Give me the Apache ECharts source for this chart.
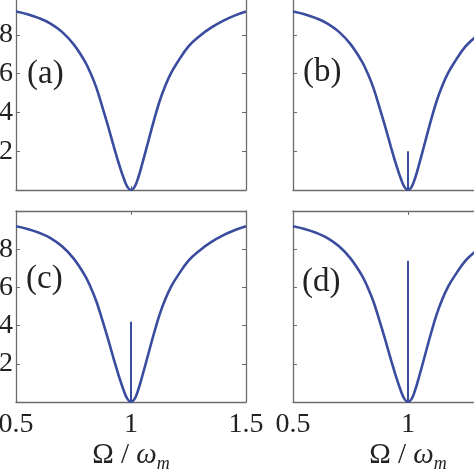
<!DOCTYPE html>
<html>
<head>
<meta charset="utf-8">
<script src="https://cdn.jsdelivr.net/npm/echarts@6/dist/echarts.min.js"></script>
<style>
  html, body { margin: 0; padding: 0; background: #fff; }
  #chart { width: 474px; height: 474px; }
</style>
</head>
<body>
<div id="chart"></div>
<script>
// Dados
const omegaRatio = [0.5, 0.55, 0.6, 0.65, 0.7, 0.75, 0.8, 0.825, 0.85, 0.875, 0.9, 0.925, 0.95, 0.97, 0.985, 1.0,
                    1.015, 1.03, 1.05, 1.075, 1.1, 1.125, 1.15, 1.175, 1.2, 1.25, 1.3, 1.35, 1.4, 1.45, 1.5];
const dipCurve = [0.92, 0.906, 0.886, 0.858, 0.815, 0.752, 0.662, 0.600, 0.525, 0.43, 0.33, 0.225, 0.125, 0.055, 0.015, 0.0,
                  0.015, 0.058, 0.14, 0.25, 0.36, 0.46, 0.54, 0.605, 0.655, 0.74, 0.795, 0.838, 0.872, 0.899, 0.92];
const spikeHeights = [0, 0.2, 0.42, 0.74];
const panelLabels = ['(a)', '(b)', '(c)', '(d)'];
const xTickValues = [0.5, 1, 1.5];
const yTickValues = [0.2, 0.4, 0.6, 0.8];

const FONT = 'Liberation Serif';
const AXIS_COLOR = '#6b6b6b';
const LINE_COLOR = '#3a4c9e';

// posição de cada painel (a, b, c, d)
const panels = [
  { left: 16,  top: -4,  width: 230, height: 194, showY: true,  showX: false, lx: 27,  ly: 74 },
  { left: 293, top: -4,  width: 230, height: 194, showY: false, showX: false, lx: 303, ly: 72 },
  { left: 16,  top: 211, width: 230, height: 191, showY: true,  showX: true,  lx: 26,  ly: 279 },
  { left: 293, top: 211, width: 230, height: 191, showY: false, showX: true,  lx: 302, ly: 282 }
];

const chart = echarts.init(document.getElementById('chart'));

const grid = [], xAxis = [], yAxis = [], series = [], graphic = [];
const curveData = omegaRatio.map((x, i) => [x, dipCurve[i]]);

panels.forEach((p, k) => {
  grid.push({ left: p.left, top: p.top, width: p.width, height: p.height, containLabel: false, outerBoundsMode: 'none' });

  const lineStyle = { color: AXIS_COLOR, width: 1.3 };
  const tick = { show: true, inside: true, length: 4, lineStyle: { color: AXIS_COLOR, width: 1 } };

  // eixo x de baixo
  xAxis.push({
    type: 'value', gridIndex: k, position: 'bottom',
    min: 0.5, max: 1.5, interval: 0.5,
    axisLine: { show: true, onZero: false, lineStyle },
    axisTick: tick,
    splitLine: { show: false },
    axisLabel: {
      show: p.showX, margin: 9, fontFamily: FONT, fontSize: 28, color: '#222',
      showMinLabel: true, showMaxLabel: true, hideOverlap: false,
      formatter: v => xTickValues.includes(v) ? String(v) : ''
    },
    name: p.showX ? '{n|Ω / }{i|ω}{s|m}' : '',
    nameLocation: 'middle', nameGap: 35,
    nameTextStyle: {
      fontFamily: FONT, fontSize: 29, color: '#222',
      rich: {
        n: { fontFamily: FONT, fontSize: 29, lineHeight: 36, color: '#222' },
        i: { fontFamily: FONT, fontSize: 29, lineHeight: 36, fontStyle: 'italic', color: '#222' },
        s: { fontFamily: FONT, fontSize: 18, lineHeight: 18, fontStyle: 'italic', verticalAlign: 'bottom', color: '#222' }
      }
    }
  });
  // eixo x de cima (só moldura e ticks)
  xAxis.push({
    type: 'value', gridIndex: k, position: 'top',
    min: 0.5, max: 1.5, interval: 0.5,
    axisLine: { show: true, onZero: false, lineStyle },
    axisTick: tick, axisLabel: { show: false }, splitLine: { show: false }
  });
  // eixo y esquerdo
  yAxis.push({
    type: 'value', gridIndex: k, position: 'left',
    min: 0, max: 1, interval: 0.2,
    axisLine: { show: true, onZero: false, lineStyle },
    axisTick: tick, splitLine: { show: false },
    axisLabel: {
      show: p.showY, margin: 3, fontFamily: FONT, fontSize: 28, color: '#222',
      formatter: v => yTickValues.some(t => Math.abs(t - v) < 1e-6) ? v.toFixed(1) : ''
    }
  });
  // eixo y direito
  yAxis.push({
    type: 'value', gridIndex: k, position: 'right',
    min: 0, max: 1, interval: 0.2,
    axisLine: { show: true, onZero: false, lineStyle },
    axisTick: tick, axisLabel: { show: false }, splitLine: { show: false }
  });

  series.push({
    type: 'line', xAxisIndex: 2 * k, yAxisIndex: 2 * k,
    data: curveData, smooth: 0.4, showSymbol: false, silent: true,
    lineStyle: { color: LINE_COLOR, width: 2.6 }
  });
  if (spikeHeights[k] > 0) {
    series.push({
      type: 'line', xAxisIndex: 2 * k, yAxisIndex: 2 * k,
      data: [[1, 0], [1, spikeHeights[k]]], showSymbol: false, silent: true,
      lineStyle: { color: LINE_COLOR, width: 2 }
    });
  }

  graphic.push({
    type: 'text', x: p.lx, y: p.ly, silent: true,
    style: { text: panelLabels[k], font: '33px "Liberation Serif"', fill: '#222', verticalAlign: 'middle' }
  });
});

chart.setOption({
  backgroundColor: '#fff',
  animation: false,
  grid, xAxis, yAxis, series, graphic
});
</script>
</body>
</html>
